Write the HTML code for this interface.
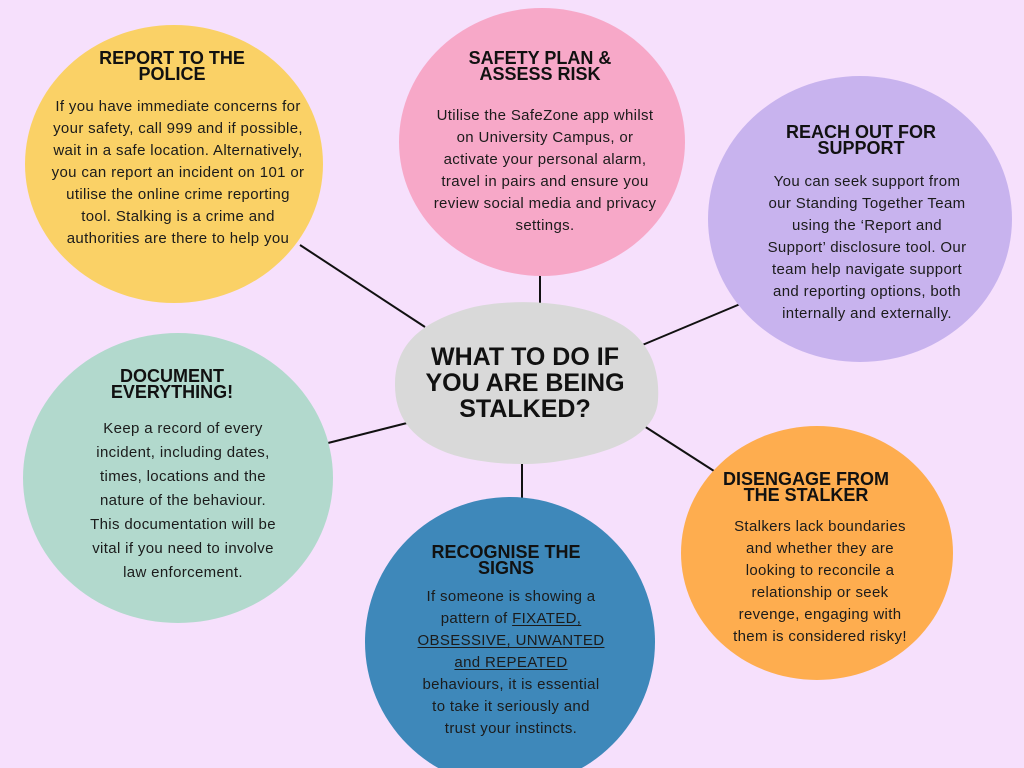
<!DOCTYPE html>
<html><head><meta charset="utf-8"><style>
html,body{margin:0;padding:0;}
body{width:1024px;height:768px;overflow:hidden;background:#F6E0FC;position:relative;font-family:"Liberation Sans",sans-serif;color:#1b1b1b;}
svg{position:absolute;left:0;top:0;}
.t{position:absolute;text-align:center;font-weight:bold;font-size:18px;line-height:16px;white-space:nowrap;transform:translateX(-50%);color:#111;}
.b{position:absolute;text-align:center;font-size:15px;letter-spacing:0.35px;line-height:22px;white-space:nowrap;transform:translateX(-50%);}
.c{position:absolute;text-align:center;font-weight:bold;font-size:25px;line-height:26px;white-space:nowrap;transform:translateX(-50%);color:#111;letter-spacing:0px;}
u{text-decoration:underline;text-underline-offset:2px;}
</style></head><body>
<svg width="1024" height="768" viewBox="0 0 1024 768">
  <g stroke="#111" stroke-width="2" fill="none">
    <line x1="300" y1="245" x2="425" y2="327"/>
    <line x1="540" y1="270" x2="540" y2="305"/>
    <line x1="745" y1="302" x2="640" y2="346"/>
    <line x1="328" y1="443" x2="407" y2="423"/>
    <line x1="522" y1="460" x2="522" y2="500"/>
    <line x1="644" y1="426" x2="714" y2="471"/>
  </g>
  <ellipse cx="174" cy="164" rx="149" ry="139" fill="#FAD166"/>
  <ellipse cx="542" cy="142" rx="143" ry="134" fill="#F7A8C8"/>
  <ellipse cx="860" cy="219" rx="152" ry="143" fill="#C8B3EE"/>
  <ellipse cx="178" cy="478" rx="155" ry="145" fill="#B2D9CD"/>
  <ellipse cx="510" cy="642" rx="145" ry="145" fill="#3E88BA"/>
  <ellipse cx="817" cy="553" rx="136" ry="127" fill="#FEAD4F"/>
  <path d="M 395,385 C 395,345 420,322 470,308 C 510,298 575,300 615,321 C 650,338 660,370 658,400 C 656,440 600,455 560,461 C 520,468 470,462 445,452 C 410,438 395,415 395,385 Z" fill="#D9D9D9"/>
</svg>

<div class="t" style="left:172px;top:50px;">REPORT TO THE<br>POLICE</div>
<div class="b" style="left:178px;top:96px;">If you have immediate concerns for<br>your safety, call 999 and if possible,<br>wait in a safe location. Alternatively,<br>you can report an incident on 101 or<br>utilise the online crime reporting<br>tool. Stalking is a crime and<br>authorities are there to help you</div>

<div class="t" style="left:540px;top:50px;">SAFETY PLAN &amp;<br>ASSESS RISK</div>
<div class="b" style="left:545px;top:105px;">Utilise the SafeZone app whilst<br>on University Campus, or<br>activate your personal alarm,<br>travel in pairs and ensure you<br>review social media and privacy<br>settings.</div>

<div class="t" style="left:861px;top:124px;">REACH OUT FOR<br>SUPPORT</div>
<div class="b" style="left:867px;top:171px;">You can seek support from<br>our Standing Together Team<br>using the ‘Report and<br>Support’ disclosure tool. Our<br>team help navigate support<br>and reporting options, both<br>internally and externally.</div>

<div class="c" style="left:525px;top:344px;">WHAT TO DO IF<br>YOU ARE BEING<br>STALKED?</div>

<div class="t" style="left:172px;top:368px;">DOCUMENT<br>EVERYTHING!</div>
<div class="b" style="left:183px;top:417px;line-height:24px;">Keep a record of every<br>incident, including dates,<br>times, locations and the<br>nature of the behaviour.<br>This documentation will be<br>vital if you need to involve<br>law enforcement.</div>

<div class="t" style="left:506px;top:544px;">RECOGNISE THE<br>SIGNS</div>
<div class="b" style="left:511px;top:586px;">If someone is showing a<br>pattern of <u>FIXATED,</u><br><u>OBSESSIVE, UNWANTED</u><br><u>and REPEATED</u><br>behaviours, it is essential<br>to take it seriously and<br>trust your instincts.</div>

<div class="t" style="left:806px;top:471px;">DISENGAGE FROM<br>THE STALKER</div>
<div class="b" style="left:820px;top:516px;">Stalkers lack boundaries<br>and whether they are<br>looking to reconcile a<br>relationship or seek<br>revenge, engaging with<br>them is considered risky!</div>
</body></html>
